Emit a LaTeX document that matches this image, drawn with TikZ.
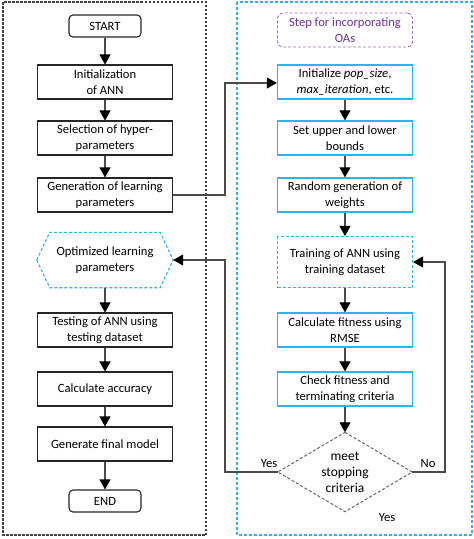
\documentclass[tikz,border=0pt]{standalone}
\usepackage{fontspec}
\setmainfont{Carlito}
\usetikzlibrary{arrows.meta,calc}
\definecolor{oacyan}{HTML}{29B6E8}
\definecolor{oapurple}{HTML}{7030A0}
\definecolor{lineg}{HTML}{4A4A4A}
\tikzset{
  box/.style={draw=black!85, line width=1.1pt, minimum width=135pt, minimum height=34pt, align=center, inner sep=1pt, font=\fontsize{12.6}{15.5}\selectfont},
  cbox/.style={box, draw=oacyan, line width=1.3pt},
  cdbox/.style={box, draw=oacyan, line width=1.1pt, dashed, dash pattern=on 3pt off 2pt},
  term/.style={box, rounded corners=4pt, minimum width=72pt, minimum height=22pt},
  conn/.style={draw=lineg, line width=1.1pt, -{Triangle[width=11pt,length=10pt,color=black,fill=black]}},
  lbl/.style={font=\fontsize{12.6}{15.5}\selectfont, inner sep=0pt}
}
\begin{document}
\begin{tikzpicture}[x=1pt,y=-1pt]
\useasboundingbox (0,0) rectangle (474,539);
% containers
\draw[black!75, line width=1.1pt, dash pattern=on 2.5pt off 1.5pt] (3,2) rectangle (206,535);
\draw[oacyan, line width=1.1pt, dash pattern=on 3pt off 2pt] (237,2) rectangle (472,535);
% left column
\node[term] (start) at (105,26) {START};
\node[box] (init) at (105,82) {Initialization\\of ANN};
\node[box] (sel) at (105,138) {Selection of hyper-\\parameters};
\node[box] (gen) at (105,195) {Generation of learning\\parameters};
\node[lbl, align=center, minimum width=136pt, minimum height=55pt] (opt) at (105,260) {Optimized learning\\parameters};
\draw[oacyan, line width=1.1pt, dash pattern=on 3pt off 2pt]
  (opt.west) -- ($(opt.north west)+(13,0)$) -- ($(opt.north east)+(-13,0)$) -- (opt.east)
  -- ($(opt.south east)+(-13,0)$) -- ($(opt.south west)+(13,0)$) -- cycle;
\node[box] (test) at (105,330) {Testing of ANN using\\testing dataset};
\node[box] (acc) at (105,389) {Calculate accuracy};
\node[box] (fin) at (105,444) {Generate final model};
\node[term] (end) at (105,501) {END};
% right column
\node[box, draw=oapurple!70, dash pattern=on 3pt off 2pt, rounded corners=5pt, text=oapurple, line width=0.9pt] (step) at (345,30) {Step for incorporating\\OAs};
\node[cbox] (ini2) at (345,82) {Initialize \textit{pop\_size},\\\textit{max\_iteration}, etc.};
\node[cbox] (bnd) at (345,138) {Set upper and lower\\bounds};
\node[cbox] (rnd) at (345,195) {Random generation of\\weights};
\node[cdbox, minimum height=51pt] (trn) at (345,262) {Training of ANN using\\training dataset};
\node[cbox] (fit) at (345,330) {Calculate fitness using\\RMSE};
\node[cbox] (chk) at (345,389) {Check fitness and\\terminating criteria};
\node[align=center, inner sep=0pt, minimum width=134pt, minimum height=79pt, font=\fontsize{13.5}{16}\selectfont] (dec) at (345,472) {meet\\stopping\\criteria};
\draw[black!60, line width=1pt, dash pattern=on 3pt off 2pt] (dec.north) -- (dec.east) -- (dec.south) -- (dec.west) -- cycle;
% connectors left
\draw[conn] (start) -- (init);
\draw[conn] (init) -- (sel);
\draw[conn] (sel) -- (gen);
\draw[conn] (opt) -- (test);
\draw[conn] (test) -- (acc);
\draw[conn] (acc) -- (fin);
\draw[conn] (fin) -- (end);
% connectors right
\draw[conn] (ini2) -- (bnd);
\draw[conn] (bnd) -- (rnd);
\draw[conn] (rnd) -- (trn);
\draw[conn] (trn) -- (fit);
\draw[conn] (fit) -- (chk);
\draw[conn] (chk) -- (dec.north);
% cross connectors
\coordinate (g1) at (225,195);
\coordinate (g2) at (225,83);
\draw[conn] (gen.east) -- (g1) -- (g2) -- (ini2.west |- g2);
\coordinate (y1) at (225,472);
\coordinate (y2) at (225,260);
\draw[conn] (dec.west) -- (y1) -- (y2) -- (opt.east);
\coordinate (n1) at (445,472);
\coordinate (n2) at (445,262);
\draw[conn] (dec.east) -- (n1) -- (n2) -- (trn.east);
% labels
\node[lbl] (yesl) at (269,463) {Yes};
\node[lbl] (nol) at (428,463) {No};
\node[lbl] (yesb) at (387,517) {Yes};
\end{tikzpicture}
\end{document}
